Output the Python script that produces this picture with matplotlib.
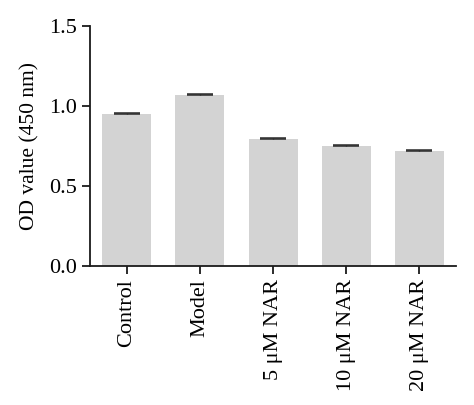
import matplotlib
matplotlib.use("Agg")
import matplotlib.pyplot as plt
import numpy as np

categories = ["Control", "Model", "5 μM NAR", "10 μM NAR", "20 μM NAR"]
values = [0.948, 1.069, 0.795, 0.750, 0.720]
errors = [0.010, 0.006, 0.006, 0.006, 0.006]
yticks = [0.0, 0.5, 1.0, 1.5]
ylabel = "OD value (450 nm)"

plt.rcParams['font.family'] = ['Liberation Serif', 'DejaVu Serif']
fs = 16

fig = plt.figure(figsize=(4.74, 4.05), dpi=100)
ax = fig.add_axes([0.19, 0.343, 0.772, 0.5935])

x = np.arange(len(categories))
ax.bar(x, values, width=0.67, color="#d3d3d3", edgecolor="none", zorder=2)
ax.errorbar(x, values, yerr=[np.zeros(len(errors)), errors], fmt="none",
            ecolor="#2a2a2a", elinewidth=1.0, capsize=9.4, capthick=1.1, zorder=3)

ax.set_xlim(-0.5, 4.5)
ax.set_ylim(0, 1.5)
ax.set_yticks(yticks)
ax.set_yticklabels([f"{t:.1f}" for t in yticks], fontsize=fs)
ax.set_xticks(x)
ax.set_xticklabels(categories, rotation=90, fontsize=fs)
ax.set_ylabel(ylabel, fontsize=15.5, labelpad=7)

for s in ["top", "right"]:
    ax.spines[s].set_visible(False)
for s in ["left", "bottom"]:
    ax.spines[s].set_linewidth(1.3)
    ax.spines[s].set_color("#1a1a1a")
ax.tick_params(axis="both", length=5.5, width=1.3, color="#1a1a1a", pad=4)

fig.savefig("out.png", dpi=100)
